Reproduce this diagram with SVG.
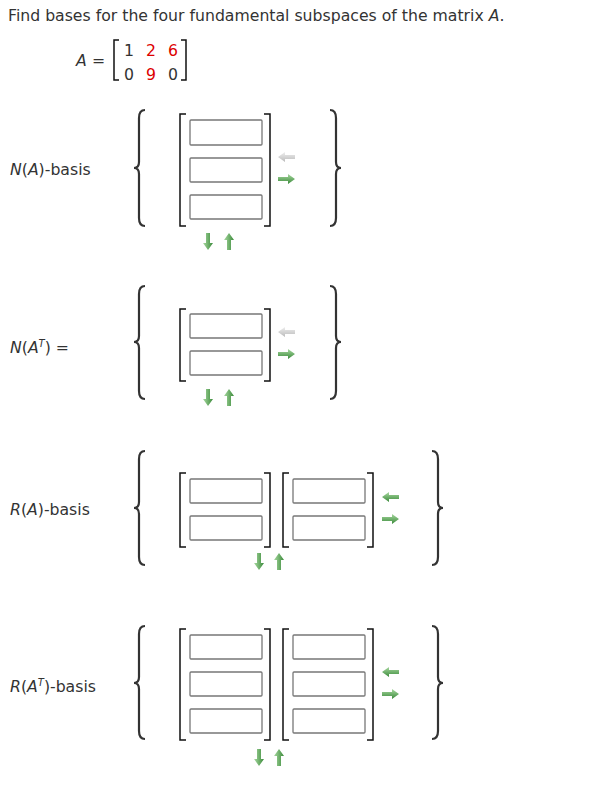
<svg xmlns="http://www.w3.org/2000/svg" width="603" height="793" viewBox="0 0 603 793">
<style>
text{font-family:"DejaVu Sans",Verdana,sans-serif;font-size:15.7px;fill:#333}
.it{font-style:italic}
.red{fill:#d00}
.box{fill:#fff;stroke:#777;stroke-width:1.3}
.brk{fill:none;stroke:#111;stroke-width:1.5}
.brace{fill:none;stroke:#333;stroke-width:2.2}
</style>
<defs>
<linearGradient id="gv" x1="0" y1="0" x2="1" y2="0"><stop offset="0" stop-color="#a8d8a0"/><stop offset="1" stop-color="#3a8a3a"/></linearGradient>
<linearGradient id="gh" x1="0" y1="0" x2="0" y2="1"><stop offset="0" stop-color="#a8d8a0"/><stop offset="1" stop-color="#3a8a3a"/></linearGradient>
<linearGradient id="gg" x1="0" y1="0" x2="0" y2="1"><stop offset="0" stop-color="#eee"/><stop offset="1" stop-color="#bbb"/></linearGradient>
<g id="ar"><path d="M0,-2 H10 V-5 L17,0 L10,5 V2 H0 Z" fill="url(#gh)"/></g>
<g id="al"><path d="M17,-2 H7 V-5 L0,0 L7,5 V2 H17 Z" fill="url(#gh)"/></g>
<g id="alg"><path d="M17,-2 H7 V-5 L0,0 L7,5 V2 H17 Z" fill="url(#gg)"/></g>
<g id="ad"><path d="M-2,0 V10 H-5 L0,17 L5,10 H2 V0 Z" fill="url(#gv)"/></g>
<g id="au"><path d="M-2,17 V7 H-5 L0,0 L5,7 H2 V17 Z" fill="url(#gv)"/></g>
</defs>
<text x="8" y="21">Find bases for the four fundamental subspaces of the matrix <tspan class="it">A</tspan>.</text>
<g id="matrix">
<text x="76" y="66" class="it">A</text><text x="92" y="66">=</text>
<path class="brk" d="M119,40 H114 V80 H119 M181,40 H186 V80 H181"/>
<text x="124" y="56">1</text><text x="146" y="56" class="red">2</text><text x="168" y="56" class="red">6</text>
<text x="124" y="80">0</text><text x="146" y="80" class="red">9</text><text x="168" y="80">0</text>
</g>
<g id="nA">
<text x="10" y="175"><tspan class="it">N</tspan>(<tspan class="it">A</tspan>)-basis</text>
<path class="brace" d="M145,110 Q139,110 139,118 V162 Q139,168 134,168 Q139,168 139,174 V218 Q139,226 145,226"/>
<path class="brace" d="M330,110 Q336,110 336,118 V162 Q336,168 341,168 Q336,168 336,174 V218 Q336,226 330,226"/>
<path class="brk" d="M186,114 H180 V226 H186 M264,114 H270 V226 H264"/>
<rect class="box" x="190" y="120" width="72" height="25" rx="1"/>
<rect class="box" x="190" y="158" width="72" height="24" rx="1"/>
<rect class="box" x="190" y="195" width="72" height="24" rx="1"/>
<use href="#alg" x="278" y="157"/><use href="#ar" x="278" y="179"/>
<use href="#ad" x="208" y="233"/><use href="#au" x="229" y="233"/>
</g>
<g id="nAT">
<text x="10" y="353"><tspan class="it">N</tspan>(<tspan class="it">A</tspan><tspan class="it" font-size="10" dy="-6">T</tspan><tspan dy="6">) =</tspan></text>
<path class="brace" d="M145,286 Q139,286 139,294 V336 Q139,342 134,342 Q139,342 139,348 V391 Q139,399 145,399"/>
<path class="brace" d="M330,286 Q336,286 336,294 V336 Q336,342 341,342 Q336,342 336,348 V391 Q336,399 330,399"/>
<path class="brk" d="M186,309 H180 V381 H186 M264,309 H270 V381 H264"/>
<rect class="box" x="190" y="314" width="72" height="24" rx="1"/>
<rect class="box" x="190" y="351" width="72" height="24" rx="1"/>
<use href="#alg" x="278" y="332"/><use href="#ar" x="278" y="354"/>
<use href="#ad" x="208" y="389"/><use href="#au" x="229" y="389"/>
</g>
<g id="rA">
<text x="10" y="515"><tspan class="it">R</tspan>(<tspan class="it">A</tspan>)-basis</text>
<path class="brace" d="M145,451 Q139,451 139,459 V502 Q139,508 134,508 Q139,508 139,514 V557 Q139,565 145,565"/>
<path class="brace" d="M432,451 Q438,451 438,459 V502 Q438,508 443,508 Q438,508 438,514 V557 Q438,565 432,565"/>
<path class="brk" d="M186,473 H180 V547 H186 M264,473 H270 V547 H264"/>
<path class="brk" d="M289,473 H283 V547 H289 M367,473 H373 V547 H367"/>
<rect class="box" x="190" y="479" width="72" height="24" rx="1"/>
<rect class="box" x="190" y="516" width="72" height="24" rx="1"/>
<rect class="box" x="293" y="479" width="72" height="24" rx="1"/>
<rect class="box" x="293" y="516" width="72" height="24" rx="1"/>
<use href="#al" x="382" y="497"/><use href="#ar" x="382" y="519"/>
<use href="#ad" x="259" y="553"/><use href="#au" x="279" y="553"/>
</g>
<g id="rAT">
<text x="10" y="692"><tspan class="it">R</tspan>(<tspan class="it">A</tspan><tspan class="it" font-size="10" dy="-6">T</tspan><tspan dy="6">)-basis</tspan></text>
<path class="brace" d="M145,626 Q139,626 139,634 V677 Q139,683 134,683 Q139,683 139,689 V731 Q139,739 145,739"/>
<path class="brace" d="M432,626 Q438,626 438,634 V677 Q438,683 443,683 Q438,683 438,689 V731 Q438,739 432,739"/>
<path class="brk" d="M186,629 H180 V740 H186 M264,629 H270 V740 H264"/>
<path class="brk" d="M289,629 H283 V740 H289 M367,629 H373 V740 H367"/>
<rect class="box" x="190" y="635" width="72" height="24" rx="1"/>
<rect class="box" x="190" y="672" width="72" height="24" rx="1"/>
<rect class="box" x="190" y="709" width="72" height="24" rx="1"/>
<rect class="box" x="293" y="635" width="72" height="24" rx="1"/>
<rect class="box" x="293" y="672" width="72" height="24" rx="1"/>
<rect class="box" x="293" y="709" width="72" height="24" rx="1"/>
<use href="#al" x="382" y="672"/><use href="#ar" x="382" y="694"/>
<use href="#ad" x="259" y="749"/><use href="#au" x="279" y="749"/>
</g>
<g id="connectors"/>
</svg>
